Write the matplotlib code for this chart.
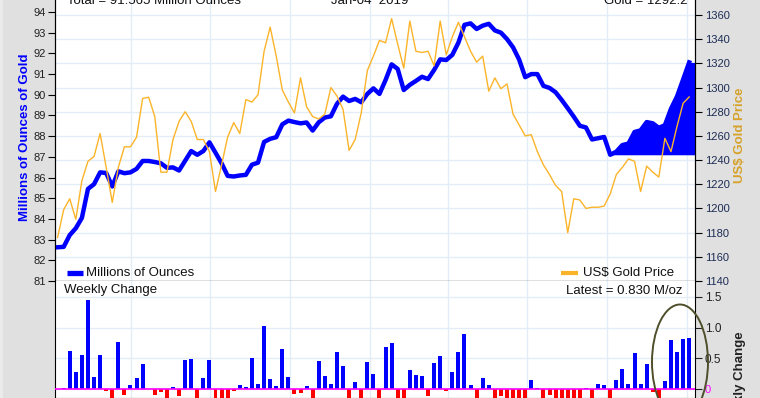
import numpy as np
import pandas as pd
import matplotlib
matplotlib.use('Agg')
import matplotlib.pyplot as plt
import matplotlib.dates as mdates
from matplotlib.patches import Ellipse, Rectangle

plt.rcParams['font.family'] = ['Liberation Sans', 'DejaVu Sans']

# недельные данные, последняя точка - 4 января 2019
weeks = pd.date_range(end='2019-01-04', periods=105, freq='7D')

# запасы золота, млн унций
holdings = [
    82.63, 82.65, 83.22, 83.55, 84.05, 85.45, 85.68, 86.25, 86.22, 85.57,
    86.30, 86.21, 86.25, 86.42, 86.80, 86.80, 86.75, 86.69, 86.47, 86.49,
    86.34, 86.81, 87.28, 87.10, 87.28, 87.70, 87.20, 86.69, 86.08, 86.05,
    86.10, 86.13, 86.62, 86.72, 87.72, 87.87, 87.95, 88.57, 88.75, 88.68,
    88.62, 88.66, 88.27, 88.67, 88.90, 88.96, 89.56, 89.91, 89.70, 89.80,
    89.64, 90.04, 90.31, 90.04, 90.71, 91.47, 91.25, 90.23, 90.48, 90.67,
    90.87, 90.76, 91.20, 91.71, 91.68, 91.93, 92.52, 93.38, 93.45, 93.18,
    93.34, 93.43, 93.11, 93.00, 92.69, 92.29, 91.70, 90.85, 91.00, 91.00,
    90.43, 90.33, 90.12, 89.75, 89.35, 88.94, 88.50, 88.42, 87.84, 87.90,
    87.96, 87.10, 87.25, 87.57, 87.64, 88.20, 88.28, 88.68, 88.62, 88.40,
    88.53, 89.32, 89.92, 90.735, 91.565]

# цена золота, $/oz
gold_price = [
    1176, 1199, 1208, 1191, 1223, 1239, 1243, 1262, 1234, 1205,
    1234, 1251, 1251, 1259, 1291, 1292, 1276, 1230, 1230, 1257,
    1272, 1280, 1272, 1257, 1257, 1247, 1214, 1236, 1259, 1271,
    1262, 1290, 1288, 1294, 1330, 1350, 1326, 1298, 1288, 1279,
    1308, 1284, 1276, 1274, 1278, 1300, 1293, 1282, 1248, 1257,
    1279, 1314, 1326, 1339, 1337, 1357, 1336, 1316, 1355, 1330,
    1329, 1330, 1318, 1355, 1327, 1342, 1354, 1342, 1330, 1321,
    1326, 1297, 1308, 1299, 1303, 1278, 1269, 1260, 1261, 1247,
    1236, 1228, 1219, 1214, 1180, 1208, 1207, 1200, 1201, 1201,
    1202, 1212, 1228, 1234, 1241, 1239, 1214, 1235, 1230, 1226,
    1258, 1247, 1268, 1287, 1292.2]

# недельное изменение, млн унций (с первой недели)
weekly_change = [
    0.02, 0.62, 0.28, 0.55, 1.44, 0.19, 0.56, -0.04, -0.65, 0.77,
    -0.09, 0.06, 0.18, 0.40, 0.00, -0.09, -0.05, -0.22, 0.03, -0.12,
    0.47, 0.48, -0.18, 0.18, 0.47, -0.50, -0.51, -0.61, -0.03, 0.06,
    0.03, 0.50, 0.08, 1.03, 0.16, 0.05, 0.65, 0.19, -0.08, -0.06,
    0.05, -0.38, 0.45, 0.21, 0.08, 0.60, 0.37, -0.20, 0.11, -0.18,
    0.44, 0.24, -0.27, 0.68, 0.74, -0.21, -1.02, 0.31, 0.23, 0.21,
    -0.11, 0.42, 0.53, -0.04, 0.27, 0.60, 0.89, 0.06, -0.27, 0.18,
    0.06, -0.29, -0.11, -0.29, -0.41, -0.56, -0.89, 0.15, 0.02, -0.57,
    -0.09, -0.22, -0.37, -0.40, -0.41, -0.40, 0.02, -0.58, 0.08, 0.06,
    -0.86, 0.15, 0.32, 0.08, 0.58, 0.08, 0.40, -0.05, -0.20, 0.13,
    0.79, 0.60, 0.82, 0.83]

low_idx = 91  # минимум, от которого закрашена область

blue = '#0000ff'
orange = '#fbb42a'
grid_c = '#e3edf7'

fig = plt.figure(figsize=(7.6, 3.98), dpi=100, facecolor='#e0e0e0')
W, H = 760, 398
# светлая полоска у левого края
fig.add_artist(Rectangle((0, 0), 3 / W, 1, transform=fig.transFigure,
                         facecolor='#ebebeb', edgecolor='none'))
ax1 = fig.add_axes([55 / W, 117 / H, 640 / W, 281 / H])
ax2 = ax1.twinx()
ax3 = fig.add_axes([55 / W, 0, 640 / W, 117 / H], sharex=ax1)

x_lo = weeks[0] - pd.Timedelta(days=3)
x_hi = weeks[-1] + pd.Timedelta(days=6.7)
ax1.set_xlim(x_lo, x_hi)

y1 = (81, 94.58)
y2 = (1140, 1372.4)
ax1.set_ylim(*y1)
ax2.set_ylim(*y2)

# сетка по шкале цены (рисуем на ax1, чтобы была под линиями)
price_ticks = np.arange(1140, 1361, 20)
for p in price_ticks:
    hh = y1[0] + (p - y2[0]) * (y1[1] - y1[0]) / (y2[1] - y2[0])
    ax1.axhline(hh, color=grid_c, lw=1, zorder=0)
ax1.xaxis.set_major_locator(mdates.MonthLocator(bymonth=[1, 4, 7, 10]))
ax1.grid(axis='x', color=grid_c, lw=1, zorder=0)
ax1.set_axisbelow(True)

h = np.array(holdings)
fill_x = weeks[low_idx:].append(pd.DatetimeIndex([x_hi]))
fill_y = np.append(h[low_idx:], h[-1])
ax1.fill_between(fill_x, fill_y, h[low_idx], color=blue, lw=0, zorder=2)
ax1.plot(weeks, h, color=blue, lw=3.2, zorder=3, solid_joinstyle='round')
ax2.plot(weeks, gold_price, color=orange, lw=1.0)

ax1.set_yticks(np.arange(81, 95, 1))
ax2.set_yticks(price_ticks)
ax1.tick_params(axis='y', labelsize=8, length=5, pad=1.5, colors='#222222')
ax2.tick_params(axis='y', labelsize=8, length=5, pad=2.5, colors='#1c2c55')
ax2.tick_params(axis='y', color='black')
ax1.tick_params(axis='y', color='black')
for ax in (ax1, ax2, ax3):
    ax.tick_params(axis='x', length=0, labelbottom=False)
for ax in (ax1, ax2):
    ax.spines['top'].set_visible(False)

# нижняя панель - недельные изменения
wc = np.array(weekly_change)
colors = np.where(wc >= 0, blue, '#ff0000')
ax3.bar(weeks[1:], wc, width=4.6, color=colors, zorder=2)
ax3.axhline(0, color='#ff00ff', lw=1.2, zorder=3)
ax3.set_ylim(-0.146, 1.756)
ax3.yaxis.tick_right()
ax3.set_yticks([0, 0.5, 1.0, 1.5])
ax3.set_yticklabels(['0', '0.5', '1.0', '1.5'])
ax3.tick_params(axis='y', labelsize=8.5, length=5, pad=2, colors='#222222')
ax3.get_yticklabels()[0].set_color('#ff00ff')
ax3.get_yticklabels()[0].set_fontsize(8)
ax3.yaxis.get_major_ticks()[0].tick2line.set_color('#ff00ff')
ax3.grid(color=grid_c, lw=1, zorder=0)
ax3.set_axisbelow(True)
ax3.spines['top'].set_visible(False)

# подписи
fig.text(25 / W, 1 - 137 / H, 'Millions of Ounces of Gold', rotation=90,
         color=blue, fontweight='bold', fontsize=9.5, ha='center', va='center')
fig.text(740 / W, 1 - 135.5 / H, 'US$ Gold Price', rotation=90,
         color='#d6a22a', fontweight='bold', fontsize=9.5, ha='center', va='center')
fig.text(740 / W, 1 - 380 / H, 'Weekly Change', rotation=90,
         color='#222222', fontweight='bold', fontsize=9.5, ha='center', va='center')

fig.text(67 / W, 1 - 4 / H, 'Total = 91.565 Million Ounces', fontsize=9.5,
         va='baseline', ha='left', color='#111111')
fig.text(370 / W, 1 - 4 / H, 'Jan-04  2019', fontsize=9.5,
         va='baseline', ha='center', color='#111111')
fig.text(687 / W, 1 - 4 / H, 'Gold = 1292.2', fontsize=9.5,
         va='baseline', ha='right', color='#111111')
fig.text(64 / W, 1 - 293.5 / H, 'Weekly Change', fontsize=9.5,
         va='baseline', ha='left', color='#111111')
fig.text(682 / W, 1 - 293.5 / H, 'Latest = 0.830 M/oz', fontsize=9.5,
         va='baseline', ha='right', color='#111111')

# легенда
ax1.plot([12 / 640, 28 / 640], [8 / 281, 8 / 281], transform=ax1.transAxes,
         color=blue, lw=3.8, solid_capstyle='butt')
ax1.text(31 / 640, 8 / 281, 'Millions of Ounces', transform=ax1.transAxes,
         fontsize=9.5, va='center', ha='left', color='#111111')
ax1.plot([506 / 640, 523 / 640], [8 / 281, 8 / 281], transform=ax1.transAxes,
         color=orange, lw=3.0, solid_capstyle='butt')
ax1.text(619 / 640, 8 / 281, 'US$ Gold Price', transform=ax1.transAxes,
         fontsize=9.5, va='center', ha='right', color='#111111')

# овал вокруг последних недель
fig.add_artist(Ellipse((680 / W, 36 / H), 56 / W, 115 / H, transform=fig.transFigure,
                       fill=False, edgecolor='#4f4f2c', lw=1.4))

fig.savefig('out.png', dpi=100, facecolor=fig.get_facecolor())
